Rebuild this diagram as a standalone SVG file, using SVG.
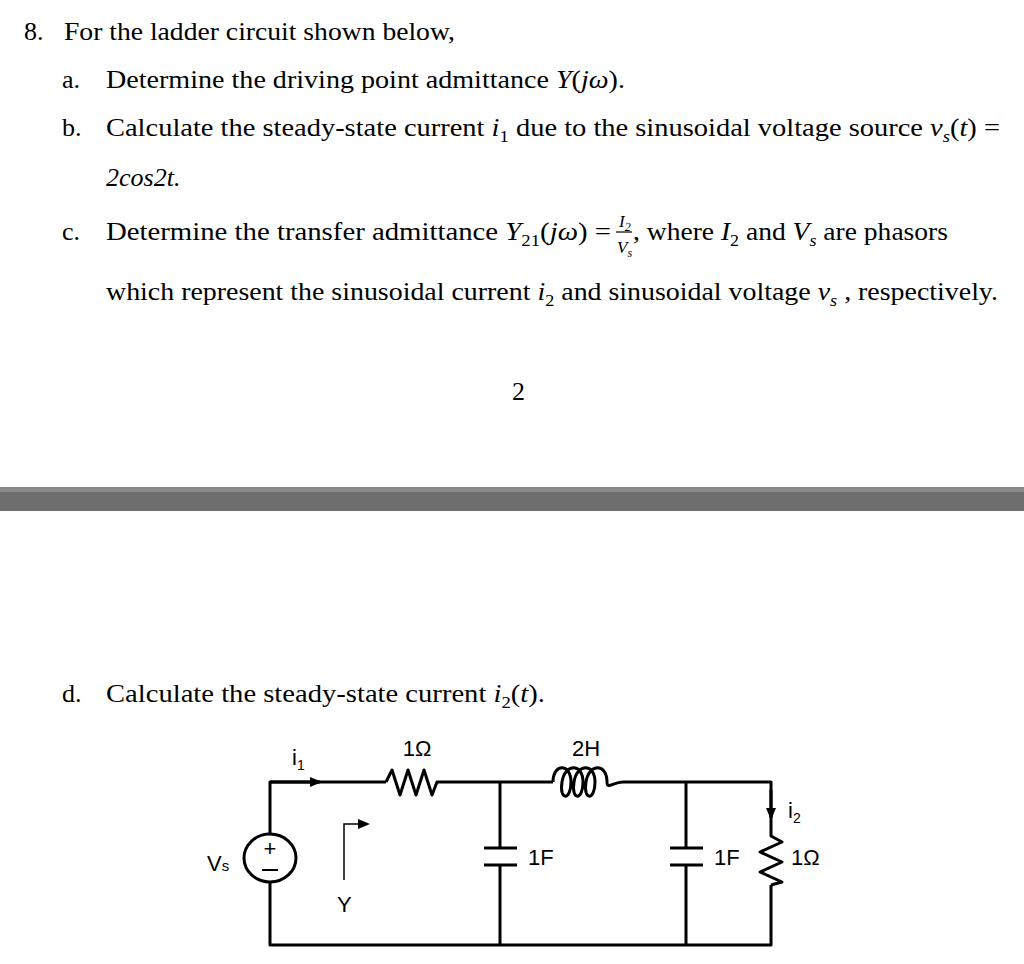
<svg xmlns="http://www.w3.org/2000/svg" width="1024" height="964" viewBox="0 0 1024 964">
<style>
.t{font-family:"Liberation Serif",serif;font-size:26px;fill:#000}
.m{font-style:italic}
.s{font-size:17px}
.c{font-family:"Liberation Sans",Arial,sans-serif;font-size:22px;fill:#000}
.w{stroke:#000;stroke-width:3;fill:none;stroke-linejoin:round}
</style>
<defs><marker id="ah" markerWidth="12" markerHeight="10" refX="10" refY="5" orient="auto" markerUnits="userSpaceOnUse"><path d="M0,0L12,5L0,10z" fill="#000"/></marker></defs>
<rect width="1024" height="964" fill="#fff"/>
<text class="t" x="24" y="40">8.</text>
<text class="t" x="64" y="40" textLength="391" lengthAdjust="spacingAndGlyphs">For the ladder circuit shown below,</text>
<text class="t" x="62" y="88">a.</text>
<text class="t" x="106" y="88" textLength="519" lengthAdjust="spacingAndGlyphs">Determine the driving point admittance <tspan class="m">Y</tspan>(<tspan class="m">jω</tspan>).</text>
<text class="t" x="62" y="136">b.</text>
<text class="t" x="106" y="136" textLength="894" lengthAdjust="spacingAndGlyphs">Calculate the steady-state current <tspan class="m">i</tspan><tspan class="s" dy="6">1</tspan><tspan dy="-6"> due to the sinusoidal voltage source </tspan><tspan class="m">v</tspan><tspan class="s m" dy="6">s</tspan><tspan dy="-6">(</tspan><tspan class="m">t</tspan>) =</text>
<text class="t m" x="106" y="186">2cos2t.</text>
<text class="t" x="62" y="240">c.</text>
<text class="t" x="106" y="240" textLength="505" lengthAdjust="spacingAndGlyphs">Determine the transfer admittance <tspan class="m">Y</tspan><tspan class="s" dy="6">21</tspan><tspan dy="-6">(</tspan><tspan class="m">jω</tspan>) =</text>
<text class="t m s" x="619" y="227">I<tspan font-size="12" dy="4">2</tspan></text>
<line x1="616" y1="232" x2="632" y2="232" stroke="#000" stroke-width="1.2"/>
<text class="t m s" x="617" y="253">V<tspan font-size="12" dy="4">s</tspan></text>
<text class="t" x="633" y="240" textLength="315" lengthAdjust="spacingAndGlyphs">, where <tspan class="m">I</tspan><tspan class="s" dy="6">2</tspan><tspan dy="-6"> and </tspan><tspan class="m">V</tspan><tspan class="s m" dy="6">s</tspan><tspan dy="-6"> are phasors</tspan></text>
<text class="t" x="106" y="300" textLength="892" lengthAdjust="spacingAndGlyphs">which represent the sinusoidal current <tspan class="m">i</tspan><tspan class="s" dy="6">2</tspan><tspan dy="-6"> and sinusoidal voltage </tspan><tspan class="m">v</tspan><tspan class="s m" dy="6">s</tspan><tspan dy="-6"> , respectively.</tspan></text>
<text class="t" x="512" y="400" font-size="20">2</text>
<rect x="0" y="487" width="1024" height="24" fill="#6e6e6e"/>
<rect x="0" y="487" width="1024" height="5" fill="#8a8a8a"/>
<text class="t" x="62" y="702">d.</text>
<text class="t" x="106" y="702" textLength="439" lengthAdjust="spacingAndGlyphs">Calculate the steady-state current <tspan class="m">i</tspan><tspan class="s" dy="6">2</tspan><tspan dy="-6">(</tspan><tspan class="m">t</tspan>).</text>
<g id="wires">
<path class="w" d="M270,834V782H386M442,782H553M623,782H771V832M771,885V945H270V882"/>
<path class="w" d="M500,782V848M500,865V945M686,782V848M686,865V945"/>
<path d="M270,782H320" class="w" marker-end="url(#ah)"/>
<path d="M771,790V818" class="w" marker-end="url(#ah)"/>
<path d="M344,880V824H368" stroke="#000" stroke-width="1.5" fill="none" marker-end="url(#ah)"/>
</g>
<g id="source"><ellipse class="w" cx="270" cy="858" rx="26" ry="24"/><text class="c" x="270" y="856" text-anchor="middle">+</text><line x1="262" y1="870" x2="278" y2="870" stroke="#000" stroke-width="2"/></g>
<g id="R1"><path class="w" d="M386,782L392,770L400,795L408,770L416,795L424,770L432,795L437,782H442"/><text class="c" x="417" y="756" text-anchor="middle">1Ω</text></g>
<g id="L"><path class="w" d="M553,782C553,763 571,763 571,782C571,801 559,801 562,782C565,763 583,763 583,782C583,801 571,801 574,782C577,763 595,763 595,782C595,801 583,801 586,782C589,763 607,763 607,782C607,790 613,782 623,782"/><text class="c" x="586" y="756" text-anchor="middle">2H</text></g>
<g id="C1"><path class="w" stroke-width="4" d="M484,848H517M484,865H517"/><text class="c" x="528" y="865">1F</text></g>
<g id="C2"><path class="w" stroke-width="4" d="M670,848H703M670,865H703"/><text class="c" x="714" y="865">1F</text></g>
<g id="R2"><path class="w" d="M771,832L771,836L782,842L760,852L782,862L760,872L782,882L771,885"/><text class="c" x="791" y="865">1Ω</text></g>
<text class="c" x="292" y="765">i<tspan font-size="14" dy="5">1</tspan></text>
<text class="c" x="788" y="818">i<tspan font-size="14" dy="5">2</tspan></text>
<text class="c" x="207" y="871">V<tspan font-size="15">s</tspan></text>
<text class="c" x="337" y="912">Y</text>
</svg>
